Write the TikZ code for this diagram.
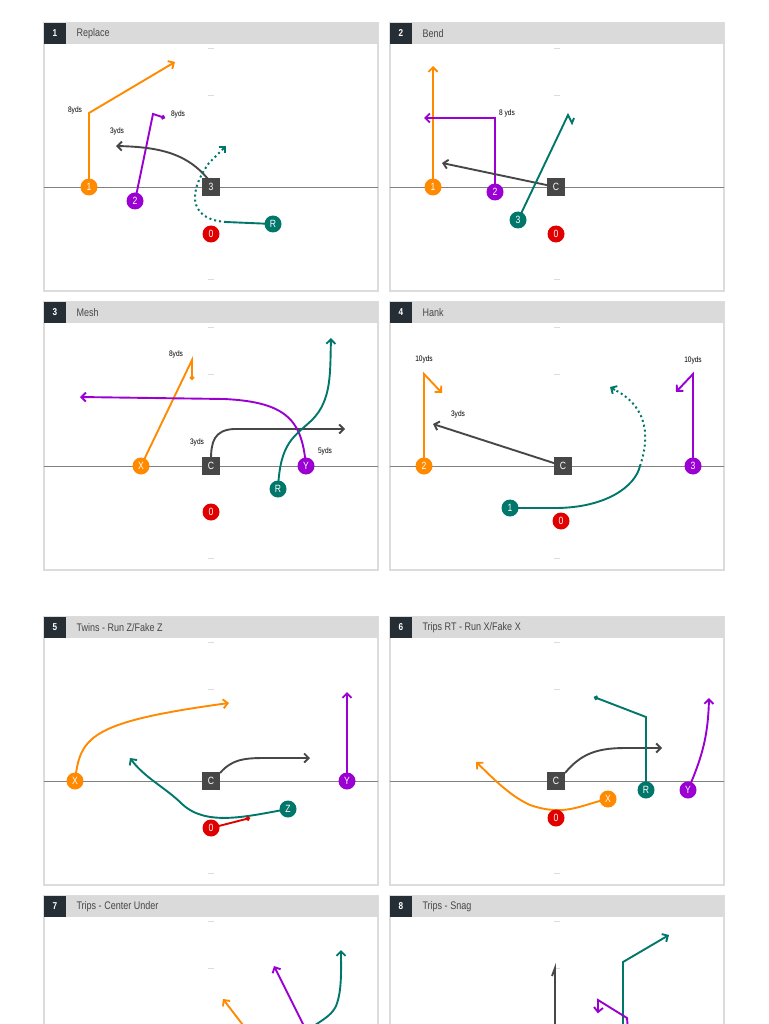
\documentclass[tikz,border=0pt]{standalone}
\usepackage{fontspec}
\setmainfont{Liberation Sans}[FakeStretch=0.82]
\usetikzlibrary{arrows.meta}
\definecolor{cor}{HTML}{FF8A00}
\definecolor{cpu}{HTML}{9B00D2}
\definecolor{cte}{HTML}{00776A}
\definecolor{cre}{HTML}{E00000}
\definecolor{cdk}{HTML}{474747}
\definecolor{chd}{HTML}{DADADA}
\definecolor{cnb}{HTML}{252D35}
\definecolor{cbd}{HTML}{DCDCDC}
\tikzset{
 pl/.style={circle,minimum size=17pt,inner sep=0pt,text=white,font=\fontsize{10.5}{10.5}\selectfont},
 po/.style={pl,fill=cor}, pp/.style={pl,fill=cpu}, pt/.style={pl,fill=cte}, pr/.style={pl,fill=cre},
 pc/.style={rectangle,minimum size=18pt,inner sep=0pt,fill=cdk,text=white,font=\fontsize{10.5}{10.5}\selectfont},
 rt/.style={line width=1.9pt,-{Straight Barb[length=4.5pt,width=9pt,line width=1.9pt]}},
 rd/.style={line width=1.9pt,-{Circle[length=4.5pt]}},
 rn/.style={line width=1.9pt},
 dt/.style={line width=2pt,dash pattern=on 2pt off 3pt},
 yd/.style={font=\fontsize{8}{8}\selectfont,text=black},
}
\newcommand\mypanel[4]{%
 \begin{scope}[shift={(#1,#2)}]
  \fill[white,draw=cbd,line width=1.8pt] (0,0) rectangle (334,268);
  \fill[chd] (0,0) rectangle (334,21);
  \fill[cnb] (0,0) rectangle (22,21);
  \node[text=white,font=\bfseries\fontsize{10}{10}\selectfont] (n#3) at (11,10.5) {#3};
  \node[anchor=west,text=cdk,font=\fontsize{11}{11}\selectfont] (t#3) at (29,10.5) {#4};
  \draw[gray,line width=0.8pt] (0,164) -- (334,164);
  \foreach \yy in {25,72,256} \draw[cbd,line width=0.9pt] (164,\yy) -- (170,\yy);
 \end{scope}}
\begin{document}
\begin{tikzpicture}[x=1pt,y=-1pt]
\useasboundingbox (0,0) rectangle (768,1024);
\fill[white] (0,0) rectangle (768,1024);
\clip (0,0) rectangle (768,1024);
\mypanel{44}{23}{1}{Replace}
\mypanel{390}{23}{2}{Bend}
\mypanel{44}{302}{3}{Mesh}
\mypanel{390}{302}{4}{Hank}
\mypanel{44}{617}{5}{Twins - Run Z/Fake Z}
\mypanel{390}{617}{6}{Trips RT - Run X/Fake X}
\mypanel{44}{896}{7}{Trips - Center Under}
\mypanel{390}{896}{8}{Trips - Snag}
% Panel 1
\begin{scope}[shift={(44,23)}]
 \draw[rt,cor] (45,164) -- (45,90) -- (131,39);
 \draw[rd,cpu] (91,178) -- (109,91) -- (121,95);
 \draw[rt,cdk] (167,160) .. controls (145,130) and (115,124) .. (72,123);
 \draw[rn,cte] (229,201) -- (182,199);
 \draw[dt,cte] (182,199) .. controls (150,197) and (140,175) .. (165,140) -- (178,127);
 \draw[rt,cte] (178,127) -- (182,123);
 \node[po] (a1) at (45,164) {1};
 \node[pp] (a2) at (91,178) {2};
 \node[pc] (a3) at (167,164) {3};
 \node[pr] (aq) at (167,211) {0};
 \node[pt] (ar) at (229,201) {R};
 \node[yd] at (31,87) {8yds};
 \node[yd] at (134,91) {8yds};
 \node[yd] at (73,108) {3yds};
\end{scope}
% Panel 2
\begin{scope}[shift={(390,23)}]
 \draw[rt,cor] (43,164) -- (43,43);
 \draw[rt,cpu] (105,169) -- (105,95) -- (34,95);
 \draw[rt,cdk] (166,164) -- (52,140);
 \draw[rn,cte] (128,197) -- (178,92) -- (182,100) -- (184,95);
 \node[po] (b1) at (43,164) {1};
 \node[pp] (b2) at (105,169) {2};
 \node[pc] (bc) at (166,164) {C};
 \node[pt] (b3) at (128,197) {3};
 \node[pr] (bq) at (166,211) {0};
 \node[yd] at (117,90) {8 yds};
\end{scope}
% Panel 3
\begin{scope}[shift={(44,302)}]
 \draw[rd,cor] (97,164) -- (148,58) -- (148,78);
 \draw[rt,cdk] (167,158) .. controls (167,140) and (170,128) .. (190,127) -- (301,127);
 \draw[rt,cpu] (262,164) .. controls (258,120) and (245,100) .. (180,97) -- (36,95);
 \draw[rt,cte] (234,187) .. controls (236,140) and (250,135) .. (268,118) .. controls (288,98) and (286,70) .. (287,36);
 \node[po] (c1) at (97,164) {X};
 \node[pc] (cc) at (167,164) {C};
 \node[pp] (cy) at (262,164) {Y};
 \node[pt] (cr) at (234,187) {R};
 \node[pr] (cq) at (167,210) {0};
 \node[yd] at (132,52) {8yds};
 \node[yd] at (153,140) {3yds};
 \node[yd] at (281,149) {5yds};
\end{scope}
% Panel 4
\begin{scope}[shift={(390,302)}]
 \draw[rt,cor] (34,164) -- (34,72) -- (52,91);
 \draw[rt,cdk] (173,164) -- (43,122);
 \draw[rn,cte] (120,206) -- (165,206) .. controls (215,206) and (245,185) .. (250,164);
 \draw[dt,cte] (250,164) .. controls (265,120) and (245,98) .. (225,88);
 \draw[rt,cte] (225,88) -- (220,85);
 \draw[rt,cpu] (303,164) -- (303,72) -- (286,90);
 \node[po] (d2) at (34,164) {2};
 \node[pc] (dc) at (173,164) {C};
 \node[pt] (d1) at (120,206) {1};
 \node[pr] (dq) at (171,219) {0};
 \node[pp] (d3) at (303,164) {3};
 \node[yd] at (34,57) {10yds};
 \node[yd] at (68,112) {3yds};
 \node[yd] at (303,58) {10yds};
\end{scope}
% Panel 5
\begin{scope}[shift={(44,617)}]
 \draw[rt,cor] (31,164) .. controls (36,120) and (45,105) .. (185,86);
 \draw[rt,cdk] (176,156) .. controls (190,140) and (205,141) .. (230,141) -- (266,141);
 \draw[rt,cpu] (303,164) -- (303,75);
 \draw[rt,cte] (244,192) .. controls (200,200) and (160,210) .. (136,185) .. controls (120,170) and (100,160) .. (86,141);
 \draw[rd,cre] (167,211) -- (206,201);
 \node[po] (e1) at (31,164) {X};
 \node[pc] (ec) at (167,164) {C};
 \node[pp] (ey) at (303,164) {Y};
 \node[pt] (ez) at (244,192) {Z};
 \node[pr] (eq) at (167,211) {0};
\end{scope}
% Panel 6
\begin{scope}[shift={(390,617)}]
 \draw[rt,cdk] (175,156) .. controls (190,138) and (205,131) .. (235,131) -- (272,131);
 \draw[rt,cor] (218,182) .. controls (190,188) and (175,200) .. (140,188) .. controls (118,178) and (100,158) .. (86,145);
 \draw[rd,cte] (256,173) -- (256,100) -- (204,80);
 \draw[rt,cpu] (298,173) .. controls (312,140) and (318,120) .. (319,81);
 \node[pc] (fc) at (166,164) {C};
 \node[po] (fx) at (218,182) {X};
 \node[pr] (fq) at (166,201) {0};
 \node[pt] (fr) at (256,173) {R};
 \node[pp] (fy) at (298,173) {Y};
\end{scope}
% Panel 7
\begin{scope}[shift={(44,896)}]
 \draw[rt,cor] (215,150) -- (179,103);
 \draw[rt,cpu] (275,160) -- (230,70);
 \draw[rt,cte] (255,145) .. controls (265,128) and (285,125) .. (292,110) .. controls (298,95) and (297,75) .. (297,54);
\end{scope}
% Panel 8
\begin{scope}[shift={(390,896)}]
 \draw[line width=1.9pt,cdk] (165,160) -- (165,72) -- (162,80);
 \draw[rt,cte] (233,160) -- (233,66) -- (279,39);
 \draw[line width=1.9pt,cpu] (240,160) -- (237,122) -- (208,104) -- (208,116);
 \draw[line width=1.9pt,cpu] (204,111) -- (208,116) -- (213,112);
\end{scope}
\end{tikzpicture}
\end{document}
